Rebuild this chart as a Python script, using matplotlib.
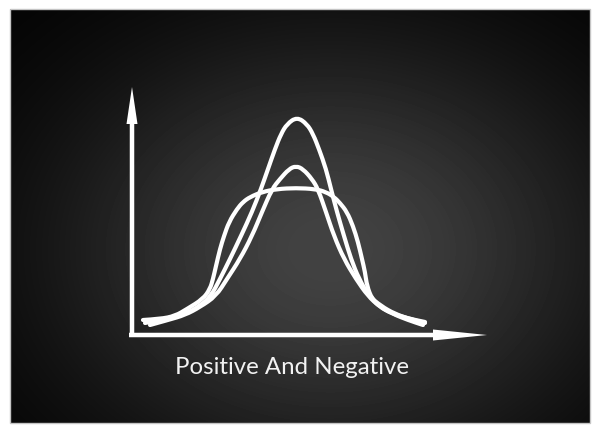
import numpy as np
import matplotlib.pyplot as plt
from matplotlib.path import Path
from matplotlib.patches import PathPatch, Rectangle

tall_x = [13, 33, 53, 68, 79, 88, 98, 109, 120, 129, 136, 143, 149, 155, 165,
          175, 181, 187, 194, 199, 205, 212, 219, 227, 237, 249, 263, 278, 293]
tall_y = [12, 16, 21, 29, 39, 56, 76, 99, 123, 146, 166, 186, 201, 211, 218,
          211, 201, 186, 166, 146, 123, 99, 76, 56, 39, 29, 21, 16, 12]

mid_x = [18, 36, 53, 68, 84, 95, 108, 120, 130, 140, 148, 157, 164,
         171, 180, 186, 194, 202, 212, 224, 236, 247, 261, 276, 291]
mid_y = [10, 15, 20, 28, 39, 56, 76, 99, 123, 146, 156, 166, 169,
         166, 156, 146, 123, 99, 76, 56, 39, 29, 21, 15, 10]

flat_x = [11, 28, 43, 55, 71, 78, 81, 84, 88, 92, 97, 105, 111, 118, 130, 145,
          164, 183, 194, 202, 208, 215, 221, 226, 230, 233, 235, 240, 248, 259, 274, 293]
flat_y = [15, 16, 19, 26, 36, 46, 56, 69, 86, 99, 113, 126, 133, 138, 143, 146,
          147, 146, 143, 138, 132, 123, 109, 93, 76, 63, 49, 36, 28, 22, 17, 13]

x_axis_end = 355
y_axis_end = 248
title = "Positive And Negative"


def smooth_path(xs, ys):
    # quadratic bezier through the midpoints -> smooth chalk stroke
    pts = list(zip(xs, ys))
    verts = [pts[0]]
    codes = [Path.MOVETO]
    for i in range(1, len(pts) - 1):
        mx = (pts[i][0] + pts[i + 1][0]) / 2
        my = (pts[i][1] + pts[i + 1][1]) / 2
        verts += [pts[i], (mx, my)]
        codes += [Path.CURVE3, Path.CURVE3]
    verts.append(pts[-1])
    codes.append(Path.LINETO)
    return Path(verts, codes)


fig = plt.figure(figsize=(6, 4.35), dpi=100)
ax = fig.add_axes([0, 0, 1, 1])
ax.set_xlim(-132, 468)
ax.set_ylim(-99, 336)
ax.axis('off')
fig.patch.set_facecolor('white')

# chalkboard with soft light spot
px, py = np.meshgrid(np.arange(10, 590), np.arange(10, 424))
r2 = ((px - 330) / 260.0) ** 2 + ((py - 250) / 200.0) ** 2
board = 0.26 * np.exp(-r2 * 0.9)
ax.imshow(board, cmap='gray', vmin=0, vmax=1, extent=(-122, 458, -88, 326),
          origin='upper', aspect='auto', interpolation='bilinear', zorder=0)
ax.add_patch(Rectangle((-122, -88), 580, 414, fill=False, ec='#c4c4c4', lw=1, zorder=1))

# axes arrows
ax.arrow(-3, 0, x_axis_end + 3, 0, width=4.5, head_width=11, head_length=54,
         length_includes_head=True, fc='white', ec='none', zorder=3)
ax.arrow(0, -2, 0, y_axis_end + 2, width=4.5, head_width=11, head_length=37,
         length_includes_head=True, fc='white', ec='none', zorder=3)

for xs, ys in [(flat_x, flat_y), (mid_x, mid_y), (tall_x, tall_y)]:
    ax.add_patch(PathPatch(smooth_path(xs, ys), fill=False, ec='white', lw=3,
                           capstyle='round', joinstyle='round', zorder=4))

ax.text(160, -32, title, color='#f2f2f2', fontsize=17.3, family='Lato',
        ha='center', va='center', zorder=5)

fig.savefig('out.png', dpi=100, facecolor='white')
